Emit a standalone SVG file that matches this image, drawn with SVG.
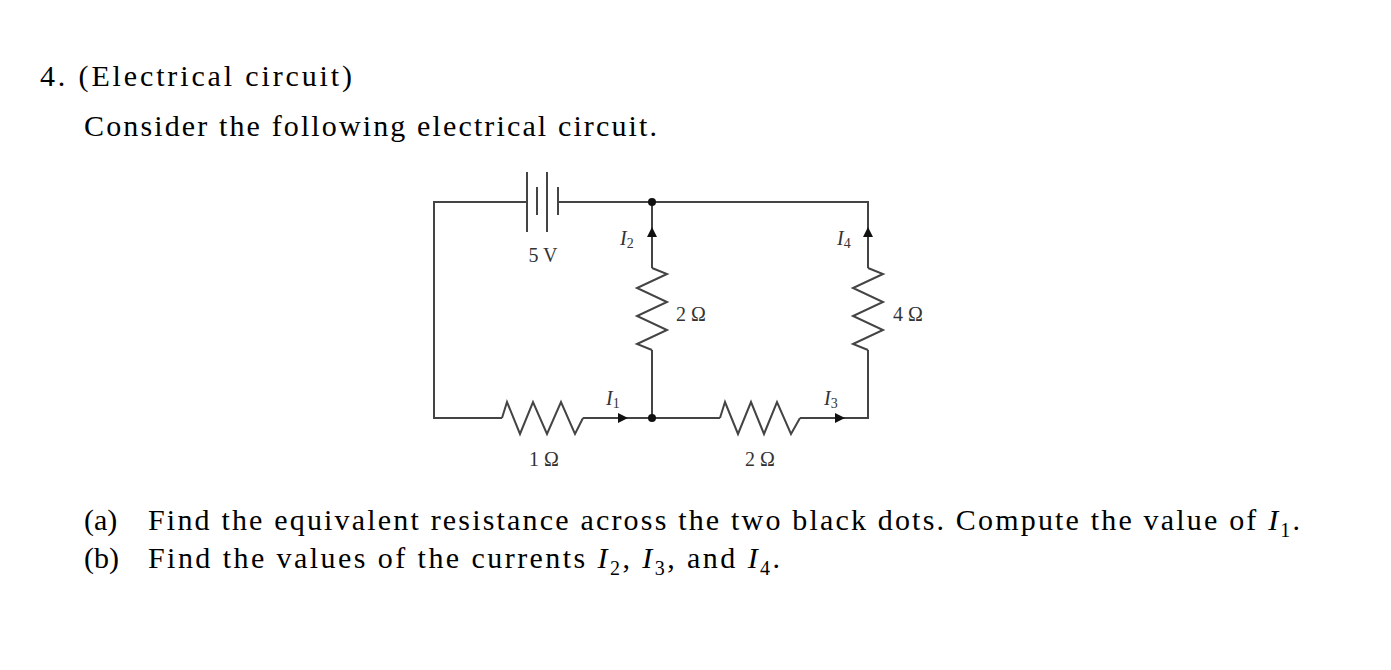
<svg xmlns="http://www.w3.org/2000/svg" width="1391" height="670" viewBox="0 0 1391 670">
<defs>
<style>
.w{fill:none;stroke:#444;stroke-width:2;stroke-linejoin:miter}
.t{font-family:"Liberation Serif",serif;fill:#000}
.h{font-size:30px}
.c{font-size:20px;fill:#333}
.i{font-style:italic}
</style>
<marker id="a" viewBox="0 0 10 10" refX="5" refY="5" markerWidth="10" markerHeight="10" markerUnits="userSpaceOnUse" orient="auto"><path d="M0,0L10,5L0,10z" fill="#111"/></marker>
</defs>
<rect width="1391" height="670" fill="#fff"/>
<text class="t h" x="40" y="86" textLength="312" lengthAdjust="spacing">4. (Electrical circuit)</text>
<text class="t h" x="84" y="136" textLength="573" lengthAdjust="spacing">Consider the following electrical circuit.</text>
<text class="t h" x="84" y="530">(a)</text>
<text class="t h" x="148" y="530" textLength="1152" lengthAdjust="spacing">Find the equivalent resistance across the two black dots. Compute the value of <tspan class="i">I</tspan><tspan font-size="20" dy="7">1</tspan><tspan dy="-7">.</tspan></text>
<text class="t h" x="84" y="568">(b)</text>
<text class="t h" x="148" y="568" textLength="632" lengthAdjust="spacing">Find the values of the currents <tspan class="i">I</tspan><tspan font-size="20" dy="7">2</tspan><tspan dy="-7">, </tspan><tspan class="i">I</tspan><tspan font-size="20" dy="7">3</tspan><tspan dy="-7">,  and </tspan><tspan class="i">I</tspan><tspan font-size="20" dy="7">4</tspan><tspan dy="-7">.</tspan></text>
<g id="connectors">
<path class="w" d="M527,202H434V418H502"/>
<path class="w" d="M558,202H868V268"/>
<path class="w" d="M583,418H720"/>
<path class="w" d="M800,418H868V350"/>
<path class="w" d="M652,202V268"/>
<path class="w" d="M652,350V418"/>
<path d="M652,246V232" stroke="none" fill="none" marker-end="url(#a)"/>
<path d="M868,246V232" stroke="none" fill="none" marker-end="url(#a)"/>
<path d="M608,418H623" stroke="none" fill="none" marker-end="url(#a)"/>
<path d="M825,418H840" stroke="none" fill="none" marker-end="url(#a)"/>
</g>
<g id="battery" class="w">
<path d="M527,172V232M537,187V215M547,172V232M558,187V215"/>
</g>
<g id="node-top"><circle cx="652" cy="202" r="4" fill="#111"/></g>
<g id="node-bottom"><circle cx="652" cy="418" r="4" fill="#111"/></g>
<g id="r2v"><path class="w" d="M652,268L667,274L637,288L667,302L637,316L667,330L637,344L652,350"/></g>
<g id="r4"><path class="w" d="M868,268L883,274L853,288L883,302L853,316L883,330L853,344L868,350"/></g>
<g id="r1"><path class="w" d="M502,418L507,402L520,434L533,402L547,434L561,402L575,434L583,418"/></g>
<g id="r2h"><path class="w" d="M720,418L725,402L738,434L751,402L764,434L777,402L791,434L800,418"/></g>
<g id="labels">
<text class="t c" x="543" y="262" text-anchor="middle">5 V</text>
<text class="t c" x="676" y="321">2 Ω</text>
<text class="t c" x="893" y="321">4 Ω</text>
<text class="t c" x="544" y="466" text-anchor="middle">1 Ω</text>
<text class="t c" x="760" y="466" text-anchor="middle">2 Ω</text>
<text class="t c" x="620" y="245"><tspan class="i">I</tspan><tspan font-size="14" dy="3">2</tspan></text>
<text class="t c" x="837" y="245"><tspan class="i">I</tspan><tspan font-size="14" dy="3">4</tspan></text>
<text class="t c" x="606" y="405"><tspan class="i">I</tspan><tspan font-size="14" dy="3">1</tspan></text>
<text class="t c" x="824" y="405"><tspan class="i">I</tspan><tspan font-size="14" dy="3">3</tspan></text>
</g>
</svg>
